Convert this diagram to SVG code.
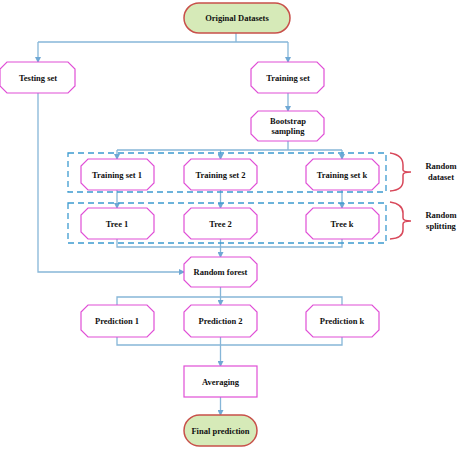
<svg xmlns="http://www.w3.org/2000/svg" width="474" height="460" viewBox="0 0 474 460">
<style>
.oct{fill:#fff;stroke:#e04fd6;stroke-width:1.2}
.pill{fill:#d6eab8;stroke:#c8504a;stroke-width:1.5}
.t{font-family:"Liberation Serif",serif;font-weight:bold;font-size:8.5px;fill:#111;text-anchor:middle}
.c{fill:none;stroke:#86b6d8;stroke-width:1.3}
.d{fill:none;stroke:#3d9bd0;stroke-width:1.3;stroke-dasharray:6,4}
.b{fill:none;stroke:#d8485a;stroke-width:1.5}
</style>
<defs>
<marker id="a" markerWidth="6" markerHeight="6" refX="5" refY="3" orient="auto" markerUnits="userSpaceOnUse">
<path d="M0,0 L6,3 L0,6 Z" fill="#6fa8d4"/>
</marker>
</defs>
<rect width="474" height="460" fill="#fff"/>
<g id="connectors">
<path class="c" d="M236,33 V42"/>
<path class="c" d="M38,42 H288"/>
<path class="c" d="M38,42 V62" marker-end="url(#a)"/>
<path class="c" d="M288,42 V62" marker-end="url(#a)"/>
<path class="c" d="M288,93 V111" marker-end="url(#a)"/>
<path class="c" d="M288,141 V150 H117 M288,150 H342"/>
<path class="c" d="M117,150 V159" marker-end="url(#a)"/>
<path class="c" d="M220.5,150 V159" marker-end="url(#a)"/>
<path class="c" d="M342,150 V159" marker-end="url(#a)"/>
<path class="c" d="M117,190 V208" marker-end="url(#a)"/>
<path class="c" d="M220.5,190 V208" marker-end="url(#a)"/>
<path class="c" d="M342,190 V208" marker-end="url(#a)"/>
<path class="c" d="M117,239 V247 H342 V239"/>
<path class="c" d="M220.5,239 V257" marker-end="url(#a)"/>
<path class="c" d="M38,93 V272 H184" marker-end="url(#a)"/>
<path class="c" d="M117,305 V297 H342 V305"/>
<path class="c" d="M220.5,287 V305" marker-end="url(#a)"/>
<path class="c" d="M117,337 V345 H342 V337"/>
<path class="c" d="M220.5,337 V366" marker-end="url(#a)"/>
<path class="c" d="M220.5,397 V415" marker-end="url(#a)"/>
</g>
<g id="groups">
<rect class="d" x="68" y="153" width="318" height="39"/>
<rect class="d" x="68" y="203" width="318" height="40"/>
<path class="b" d="M390,153 Q403,155 403,165 V170 Q403,172 411,172 M411,172 Q403,172 403,175 V181 Q403,190 390,191"/>
<path class="b" d="M390,202 Q403,204 403,213 V218 Q403,221 411,221 M411,221 Q403,221 403,224 V230 Q403,238 390,239"/>
<text class="t" x="441" y="169">Random</text>
<text class="t" x="441" y="180">dataset</text>
<text class="t" x="441" y="218">Random</text>
<text class="t" x="441" y="229">splitting</text>
</g>
<g id="original"><rect class="pill" x="184" y="3" width="106" height="30" rx="15"/><text class="t" x="237" y="21">Original Datasets</text></g>
<g id="testing"><path class="oct" d="M7,62 H68 L75,69 V86 L68,93 H7 L0,86 V69 Z"/><text class="t" x="38" y="81">Testing set</text></g>
<g id="training"><path class="oct" d="M258,62 H317 L324,69 V86 L317,93 H258 L251,86 V69 Z"/><text class="t" x="288" y="81">Training set</text></g>
<g id="bootstrap"><path class="oct" d="M258,111 H317 L324,118 V134 L317,141 H258 L251,134 V118 Z"/><text class="t" x="288" y="124">Bootstrap</text><text class="t" x="288" y="134">sampling</text></g>
<g id="ts1"><path class="oct" d="M88,159 H147 L154,166 V183 L147,190 H88 L81,183 V166 Z"/><text class="t" x="117" y="178">Training set 1</text></g>
<g id="ts2"><path class="oct" d="M191,159 H250 L257,166 V183 L250,190 H191 L184,183 V166 Z"/><text class="t" x="220.5" y="178">Training set 2</text></g>
<g id="tsk"><path class="oct" d="M313,159 H372 L379,166 V183 L372,190 H313 L306,183 V166 Z"/><text class="t" x="342" y="178">Training set k</text></g>
<g id="tree1"><path class="oct" d="M88,208 H147 L154,215 V232 L147,239 H88 L81,232 V215 Z"/><text class="t" x="117" y="227">Tree 1</text></g>
<g id="tree2"><path class="oct" d="M191,208 H250 L257,215 V232 L250,239 H191 L184,232 V215 Z"/><text class="t" x="220.5" y="227">Tree 2</text></g>
<g id="treek"><path class="oct" d="M313,208 H372 L379,215 V232 L372,239 H313 L306,232 V215 Z"/><text class="t" x="342" y="227">Tree k</text></g>
<g id="forest"><path class="oct" d="M191,257 H250 L257,264 V280 L250,287 H191 L184,280 V264 Z"/><text class="t" x="220.5" y="275">Random forest</text></g>
<g id="pred1"><path class="oct" d="M88,305 H147 L154,312 V330 L147,337 H88 L81,330 V312 Z"/><text class="t" x="117" y="324">Prediction 1</text></g>
<g id="pred2"><path class="oct" d="M191,305 H250 L257,312 V330 L250,337 H191 L184,330 V312 Z"/><text class="t" x="220.5" y="324">Prediction 2</text></g>
<g id="predk"><path class="oct" d="M313,305 H372 L379,312 V330 L372,337 H313 L306,330 V312 Z"/><text class="t" x="342" y="324">Prediction k</text></g>
<g id="averaging"><rect class="oct" x="184" y="366" width="73" height="31"/><text class="t" x="220.5" y="385">Averaging</text></g>
<g id="final"><rect class="pill" x="184" y="415" width="73" height="31" rx="15.5"/><text class="t" x="220.5" y="434">Final prediction</text></g>
</svg>
